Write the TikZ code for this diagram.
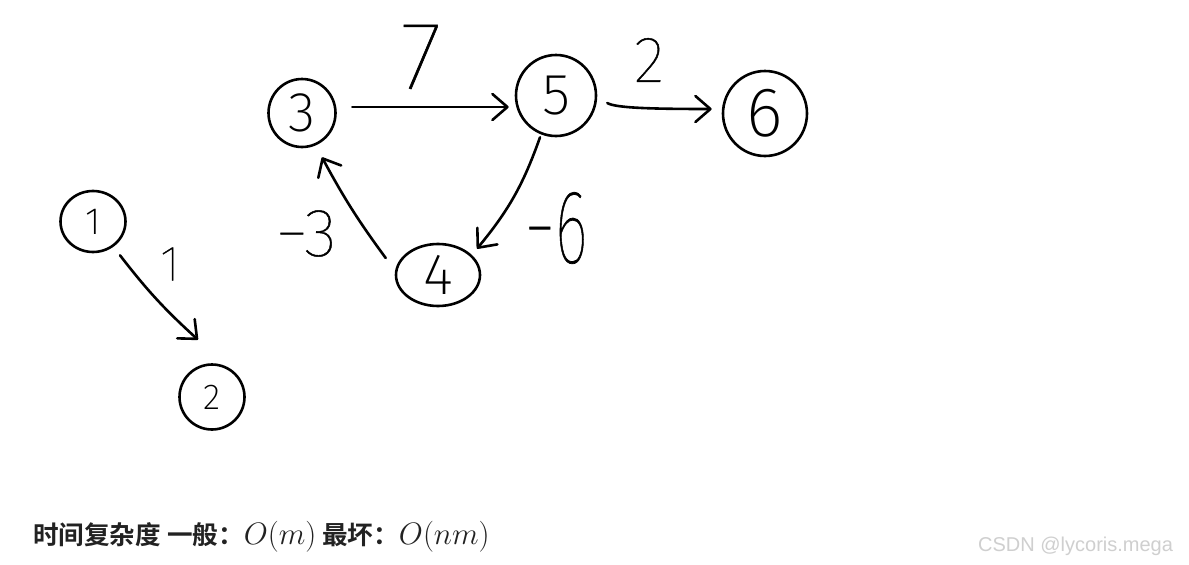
\RequirePackage{fix-cm}
\documentclass[tikz,border=0pt]{standalone}
\usepackage{fontspec}
\usepackage{graphicx}
\usetikzlibrary{arrows.meta,shapes.geometric,calc}
\newfontfamily\hand{Fira Sans ExtraLight}
\newfontfamily\handlbl{Fira Sans Thin}[FakeBold=0.7]
\newfontfamily\cjk{Noto Sans CJK SC}[BoldFont={* Bold}]
\setsansfont{Liberation Sans}
\definecolor{txt}{HTML}{222222}
\definecolor{wm}{HTML}{CFCFCF}
\begin{document}
\begin{tikzpicture}[x=1pt,y=1pt,
  vtx/.style={ellipse,draw,line width=2.6pt,inner sep=0pt,font=\hand},
  edge/.style={line width=2.6pt,line cap=round,line join=round,
    -{Straight Barb[length=15pt,width=26pt,round]}},
  lbl/.style={inner sep=0pt,font=\handlbl}]
\useasboundingbox (0,0) rectangle (1189,-565);
\fill[white] (0,0) rectangle (1189,-565);
% vertices
\node[vtx,minimum width=65,minimum height=61] (n1) at (93,-221.5) {\fontsize{38}{38}\selectfont 1};
\node[vtx,minimum width=65,minimum height=65] (n2) at (212,-397) {\fontsize{36}{36}\selectfont 2};
\node[vtx,minimum width=67,minimum height=68] (n3) at (302,-113) {\fontsize{56}{56}\selectfont 3};
\node[vtx,minimum width=84,minimum height=62] (n4) at (438,-275) {\fontsize{58}{58}\selectfont 4};
\node[vtx,minimum width=80,minimum height=81] (n5) at (556,-95.5) {\fontsize{58}{58}\selectfont 5};
\node[vtx,minimum width=84,minimum height=85] (n6) at (765,-113.5) {\fontsize{70}{70}\selectfont 6};
% edges
\draw[edge] ($(n3.east)+(15.5,6)$) -- ($(n5.west)+(-6,-11.5)$);
\draw[edge] ($(n5.east)+(10,-7.5)$) .. controls +(8,-5) and +(-60,0) .. ($(n6.west)+(-10,4.5)$);
\draw[edge] ($(n5.south)+(-16,0)$) to[bend left=10] ($(n4.north)+(39,-6)$);
\draw[edge] ($(n4.west)+(-9,17)$) to[bend left=4] ($(n3.south)+(20,-9)$);
\draw[edge] ($(n1.south)+(27,-2)$) to[bend right=5] ($(n2.north)+(-14,23.5)$);
% weights
\node[lbl] (w7) at (421,-57) {\fontsize{96}{96}\selectfont 7};
\node[lbl] (w2) at (649,-60) {\fontsize{65}{65}\selectfont 2};
\node[lbl] (wm3) at (306,-233.5) {\fontsize{68}{68}\selectfont −3};
\node[lbl] (wm6) at (556,-228) {\fontsize{105}{105}\selectfont\scalebox{0.6}[1]{−6}};
\node[lbl] (w1) at (170,-264) {\fontsize{50}{50}\selectfont 1};
% caption
\node[anchor=base west,inner sep=0pt,text=txt] (cap) at (33,-544)
  {\cjk\bfseries\fontsize{25.6}{27}\selectfont 时间复杂度 一般：{\fontsize{31}{32}\selectfont$O(m)$} 最坏：{\fontsize{31}{32}\selectfont$O(nm)$}};
\node[anchor=base west,inner sep=0pt,text=wm,font=\sffamily\fontsize{20}{20}\selectfont] (wmk) at (978,-551) {CSDN @lycoris.mega};
\end{tikzpicture}
\end{document}
